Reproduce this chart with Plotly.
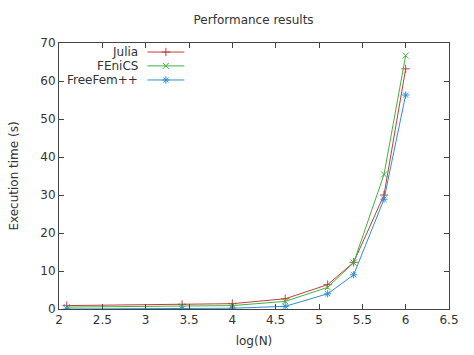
import plotly.graph_objects as go

# ---- data ----
log_n = [2.09, 3.42, 4.0, 4.61, 5.1, 5.4, 5.75, 6.0]
julia = [0.9, 1.2, 1.4, 2.7, 6.4, 12.3, 30.0, 63.2]
fenics = [0.5, 0.7, 0.9, 2.0, 5.7, 12.2, 35.4, 66.7]
freefem = [0.0, 0.1, 0.2, 0.7, 4.0, 9.0, 28.9, 56.3]
series_names = ["Julia", "FEniCS", "FreeFem++"]
x_tickvals = [2, 2.5, 3, 3.5, 4, 4.5, 5, 5.5, 6, 6.5]
x_ticktext = ["2", "2.5", "3", "3.5", "4", "4.5", "5", "5.5", "6", "6.5"]
y_tickvals = [0, 10, 20, 30, 40, 50, 60, 70]

# ---- styles ----
colors = ["#c43c3c", "#3fb43f", "#2f8fd0"]
symbols = ["cross-thin-open", "x-thin-open", "asterisk-open"]
font_family = "DejaVu Sans"
txt_color = "#333333"
msize = 6

fig = go.Figure()
for name, ys, c, s in zip(series_names, [julia, fenics, freefem], colors, symbols):
    fig.add_trace(go.Scatter(
        x=log_n, y=ys, name=name, mode="lines+markers",
        line=dict(color=c, width=1),
        marker=dict(symbol=s, size=msize, color=c, line=dict(color=c, width=1)),
        showlegend=False, xaxis="x", yaxis="y",
    ))

# custom gnuplot-style legend (text right-aligned, sample on the right)
leg_x0, leg_x1, leg_xm = 0.2266, 0.3214, 0.274
leg_text_x = 0.207
leg_rows = [0.966, 0.914, 0.861]
for name, c, s, ry in zip(series_names, colors, symbols, leg_rows):
    fig.add_trace(go.Scatter(
        x=[leg_x0, leg_x1], y=[ry, ry], mode="lines",
        line=dict(color=c, width=1), showlegend=False,
        xaxis="x2", yaxis="y2", hoverinfo="skip",
    ))
    fig.add_trace(go.Scatter(
        x=[leg_xm], y=[ry], mode="markers",
        marker=dict(symbol=s, size=msize, color=c, line=dict(color=c, width=1)),
        showlegend=False, xaxis="x2", yaxis="y2", hoverinfo="skip",
    ))
    fig.add_annotation(
        x=leg_text_x, y=ry, xref="x2", yref="y2", text=name,
        showarrow=False, xanchor="right", yanchor="middle",
        font=dict(family=font_family, size=12, color=txt_color),
    )

axis_common = dict(
    showgrid=False, zeroline=False, showline=True, linecolor="#444444",
    linewidth=1, mirror="ticks", ticks="inside", ticklen=5, tickwidth=1,
    tickcolor="#444444", automargin=False,
    tickfont=dict(family=font_family, size=12, color=txt_color),
)

fig.update_layout(
    width=474, height=355,
    margin=dict(l=58.5, r=25, t=42.5, b=45.5),
    plot_bgcolor="white", paper_bgcolor="white",
    title=dict(text="Performance results", x=0.535, xanchor="center",
               y=0.945, yanchor="middle",
               font=dict(family=font_family, size=12, color=txt_color)),
    xaxis=dict(range=[2, 6.5], tickvals=x_tickvals, ticktext=x_ticktext,
               title=dict(text="log(N)", standoff=10,
                          font=dict(family=font_family, size=12, color=txt_color)),
               **axis_common),
    yaxis=dict(range=[0, 70], tickvals=y_tickvals,
               title=dict(text="Execution time (s)", standoff=19,
                          font=dict(family=font_family, size=12, color=txt_color)),
               **axis_common),
    xaxis2=dict(range=[0, 1], overlaying="x", visible=False, fixedrange=True),
    yaxis2=dict(range=[0, 1], overlaying="y", visible=False, fixedrange=True),
    showlegend=False,
)

fig.write_html("out.html", config={"displayModeBar": False},
               post_script="document.body.style.margin='0';")
